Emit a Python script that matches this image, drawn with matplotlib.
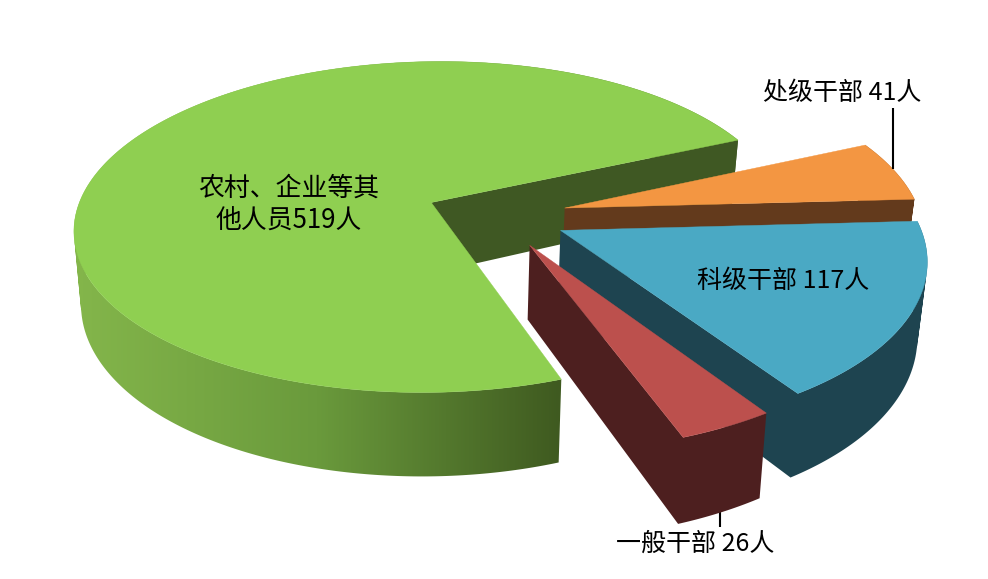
import numpy as np
import matplotlib
matplotlib.use("Agg")
import matplotlib.pyplot as plt
from matplotlib.patches import PathPatch
from matplotlib.path import Path
from matplotlib.colors import LinearSegmentedColormap

plt.rcParams['font.family'] = ['Noto Sans CJK SC', 'DejaVu Sans']

# data, clockwise from the lower-left edge of the big slice
categories = ['农村、企业等其他人员', '处级干部', '科级干部', '一般干部']
values = [519, 41, 117, 26]
labels = ['农村、企业等其\n他人员519人', '处级干部 41人', '科级干部 117人', '一般干部 26人']

# styles
top_colors = ['#8FCF51', '#F39642', '#4AA9C4', '#BC504D']
wall_colors = ['#3F5823', '#633A1C', '#1E4450', '#4D1F1F']
label_pos = [(289, 205), (842, 93), (783, 281), (695, 544)]
label_size = [18.6, 18, 18, 18]
START = 70.1
EXPLODE = [0.205, 0.195, 0.195, 0.195]
PLANE_CENTER = np.array([0.195, 0.077])
ORIGIN = (429.0, 203.0)
RX, RY, PERSP, SHEAR = 352.0, 162.0, 0.148, 10.0
DEPTH0, DEPTH1, XSHRINK = 71.0, 13.0, 0.98
GRAD_X = (73.0, 560.0)
GRAD_C = ['#84B64B', '#6A9A3C', '#3F5A20']


def top(X, Y):
    w = 1 - PERSP * Y
    return ORIGIN[0] + RX * X / w - SHEAR * Y, ORIGIN[1] + RY * Y / w


def bottom(X, Y):
    sx, sy = top(X, Y)
    return ORIGIN[0] + (sx - ORIGIN[0]) * XSHRINK, sy + DEPTH0 + DEPTH1 * Y


def quad(p, q):
    return [top(*p), top(*q), bottom(*q), bottom(*p)]


def wall_path(quads):
    """One path from many quads, all wound the same way, so there are no seams or holes."""
    verts, codes = [], []
    for q in quads:
        q = np.array(q)
        x, y = q[:, 0], q[:, 1]
        if np.dot(x, np.roll(y, -1)) - np.dot(y, np.roll(x, -1)) < 0:
            q = q[::-1]
        verts += list(q) + [q[0]]
        codes += [Path.MOVETO, Path.LINETO, Path.LINETO, Path.LINETO, Path.CLOSEPOLY]
    return Path(np.array(verts), codes)


fig = plt.figure(figsize=(9.88, 5.79), dpi=100, facecolor='white')
ax = fig.add_axes([0, 0, 1, 1])

cmap = LinearSegmentedColormap.from_list('side', GRAD_C)
angles = np.array(values) / sum(values) * 360.0
start = START
for i, ang in enumerate(angles):
    th0, th1 = np.radians(start), np.radians(start + ang)
    mid = (th0 + th1) / 2
    tip = PLANE_CENTER + EXPLODE[i] * np.array([np.cos(mid), np.sin(mid)])
    th = np.linspace(th0, th1, max(int(ang * 2), 8))
    arc = np.column_stack([tip[0] + np.cos(th), tip[1] + np.sin(th)])
    z = 10 + i * 10

    curved = [quad(p, q) for p, q in zip(arc[:-1], arc[1:])]
    # the straight wall that faces the viewer is the one at the clockwise end
    straight = [quad(tip, arc[-1])]
    if i == 0:
        clip = PathPatch(wall_path(curved), fc='none', ec='none')
        ax.add_patch(clip)
        xs = np.linspace(GRAD_X[0] - 20, GRAD_X[1] + 220, 1024)
        grad = np.clip((xs - GRAD_X[0]) / (GRAD_X[1] - GRAD_X[0]), 0, 1).reshape(1, -1)
        im = ax.imshow(grad, cmap=cmap, vmin=0, vmax=1, aspect='auto', zorder=z,
                       interpolation='bilinear', extent=(xs[0], xs[-1], 579, 0))
        im.set_clip_path(clip)
        ax.add_patch(PathPatch(wall_path(straight), fc=wall_colors[i], ec='none', zorder=z + 1))
    else:
        ax.add_patch(PathPatch(wall_path(curved + straight), fc=wall_colors[i], ec='none', zorder=z))
    # top face
    outline = np.array([top(*tip)] + [top(*p) for p in arc] + [top(*tip)])
    ax.add_patch(PathPatch(Path(outline, closed=True), fc=top_colors[i], ec=top_colors[i],
                           lw=0.3, zorder=z + 2))
    start += ang

ax.set_xlim(0, 988)
ax.set_ylim(579, 0)
ax.axis('off')

# leader lines
ax.plot([893, 893], [108, 169], color='black', lw=1.5, zorder=60, solid_capstyle='butt')
ax.plot([720, 720], [505, 527], color='black', lw=1.5, zorder=5, solid_capstyle='butt')

for lab, (x, y), fs in zip(labels, label_pos, label_size):
    ax.text(x, y, lab, ha='center', va='center', fontsize=fs, color='black',
            linespacing=1.3, zorder=70)

fig.savefig('out.png', dpi=100, facecolor='white')
